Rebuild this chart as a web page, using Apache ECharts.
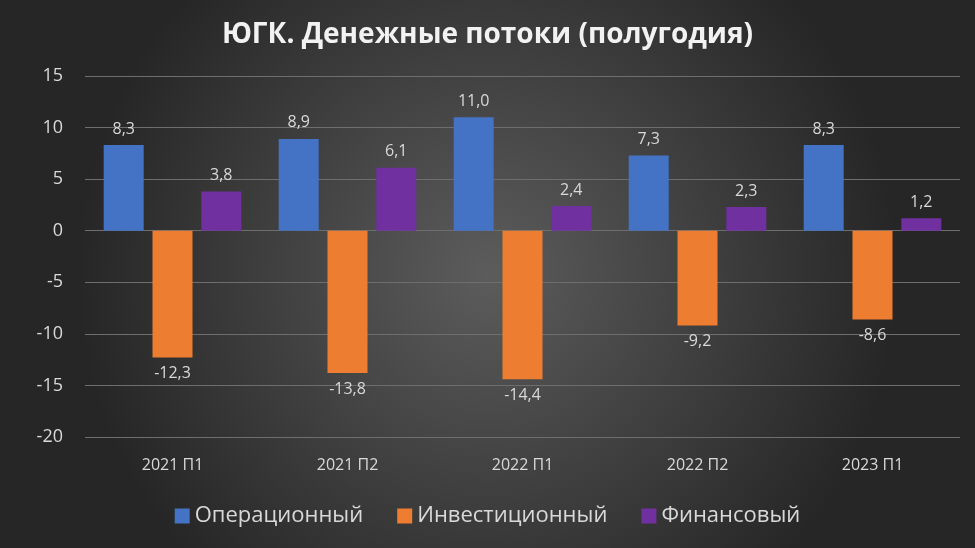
<!DOCTYPE html>
<html><head><meta charset="utf-8">
<script src="https://cdn.jsdelivr.net/npm/echarts@6/dist/echarts.min.js"></script>
<style>html,body{margin:0;padding:0;background:#fff}#c{width:975px;height:548px}</style>
</head><body><div id="c"></div>
<script>
const categories=['2021 П1','2021 П2','2022 П1','2022 П2','2023 П1'];
const operating=[8.3,8.9,11.0,7.3,8.3];
const investing=[-12.3,-13.8,-14.4,-9.2,-8.6];
const financing=[3.8,6.1,2.4,2.3,1.2];
const names=['Операционный','Инвестиционный','Финансовый'];
const colors=['#4472C4','#ED7D31','#7030A0'];
const chart=echarts.init(document.getElementById('c'));
const fmt=p=>p.value.toFixed(1).replace('.',',');
const txt='#d9d9d9';
function s(i,data){return {name:names[i],type:'bar',data:data,barWidth:40,barGap:'22%',
 itemStyle:{color:colors[i]},
 label:{show:true,position:'outside',formatter:fmt,color:txt,fontSize:16,fontFamily:'Open Sans',distance:8}};}
chart.setOption({
 backgroundColor:{type:'radial',x:0.5,y:0.5,r:0.75,colorStops:[{offset:0,color:'#5c5c5c'},{offset:1,color:'#262626'}]},
 title:{text:'ЮГК. Денежные потоки (полугодия)',left:'center',top:16,textStyle:{color:'#f2f2f2',fontSize:28,fontWeight:'bold',fontFamily:'Open Sans'}},
 legend:{bottom:16,itemWidth:15,itemHeight:15,itemGap:34,icon:'rect',textStyle:{color:txt,fontSize:22,fontFamily:'Open Sans'}},
 grid:{left:85,right:15,top:76,bottom:111},
 xAxis:{type:'category',data:categories,axisTick:{show:false},axisLine:{show:false},
  axisLabel:{color:txt,fontSize:16,fontFamily:'Open Sans',margin:20}},
 yAxis:{type:'value',min:-20,max:15,interval:5,
  axisLabel:{color:txt,fontSize:18,fontFamily:'Open Sans',margin:22},
  splitLine:{lineStyle:{color:'#6e6e6e'}}},
 series:[s(0,operating),s(1,investing),s(2,financing)]
});
</script></body></html>
